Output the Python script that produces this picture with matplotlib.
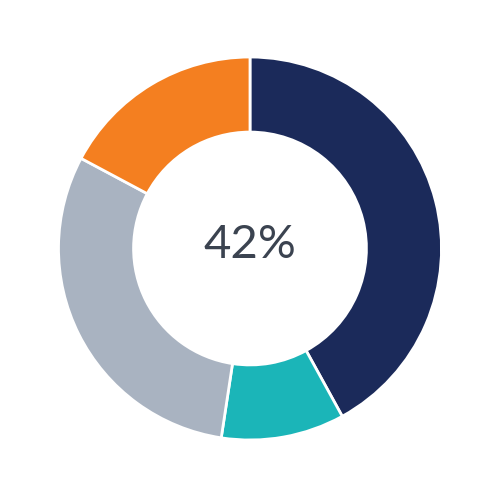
import matplotlib
matplotlib.use("Agg")
import matplotlib.pyplot as plt

labels = ["Navy", "Teal", "Gray", "Orange"]
values = [42, 10.4, 30.4, 17.2]
colors = ["#1b2a5a", "#1bb5b8", "#a9b3c1", "#f47f20"]
center_text = "42%"

fig = plt.figure(figsize=(5, 5), dpi=100)
ax = fig.add_axes([0, 0, 1, 1])
ax.pie(values, colors=colors, startangle=90, counterclock=False,
       radius=1.0,
       wedgeprops=dict(width=0.392, edgecolor="white", linewidth=2))
ax.set_xlim(-250/191.5, 250/191.5)
ax.set_ylim(-251.5/191.5, 248.5/191.5)
ax.set_aspect("equal")
ax.axis("off")
ax.text(0, 0.02, center_text, ha="center", va="center", fontsize=34,
        color="#3b4350", family=["Lato", "DejaVu Sans"])
fig.savefig("out.png", dpi=100, facecolor="white")
